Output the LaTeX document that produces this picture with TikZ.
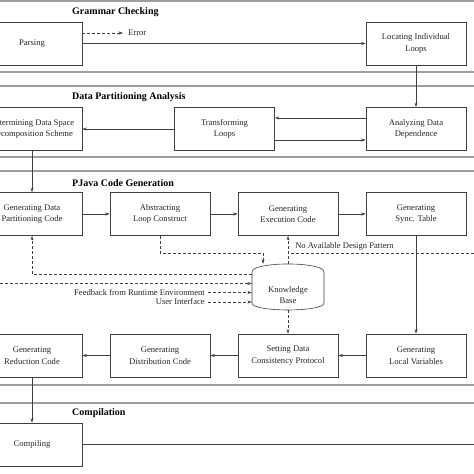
\documentclass[tikz,border=0pt]{standalone}
\usepackage{fontspec}
\setmainfont{Liberation Serif}
\usetikzlibrary{arrows.meta}
\begin{document}
\begin{tikzpicture}[x=1pt,y=-1pt,
  box/.style={draw=black!75, line width=0.6pt, fill=white, minimum width=100pt, minimum height=43pt, align=center, font=\fontsize{8.6}{11.5}\selectfont, text=black!85, inner sep=0pt},
  sectitle/.style={font=\fontsize{10}{12}\selectfont\bfseries, anchor=west, inner sep=0pt},
  lbl/.style={font=\fontsize{8.6}{10}\selectfont, inner sep=0pt, text=black!85},
  secline/.style={draw=black!38, line width=1.6pt},
  plain/.style={draw=black!75, line width=0.6pt},
  conn/.style={plain, -{Stealth[length=4.5pt,width=3pt]}},
  dline/.style={plain, dash pattern=on 3pt off 2pt},
  dconn/.style={conn, dash pattern=on 3pt off 2pt},
]
\path[use as bounding box, clip] (0,0) rectangle (474,474);
\fill[white] (0,0) rectangle (474,474);
% section borders
\foreach \yy in {1,72,86,157,171,385,403} \draw[secline] (0,\yy) -- (474,\yy);
% edge coordinates
\coordinate (R1) at (474,444.5);
\coordinate (R2) at (474,253);
\coordinate (L1) at (0,283.5);
\coordinate (j1) at (263,253);
% titles
\node[sectitle] (t1) at (72,12.5) {Grammar Checking};
\node[sectitle] (t2) at (72,97.5) {Data Partitioning Analysis};
\node[sectitle] (t3) at (72,183) {PJava Code Generation};
\node[sectitle] (t4) at (72,413) {Compilation};
% row 1
\node[box] (parse) at (32,43.5) {Parsing};
\node[box] (locate) at (416,43.5) {Locating Individual\\Loops};
\node[lbl, anchor=west] (err) at (128,33) {Error};
% row 2
\node[box] (dds) at (32,129) {Determining Data Space\\Decomposition Scheme};
\node[box] (trans) at (224.5,129) {Transforming\\Loops};
\node[box] (anal) at (416,129) {Analyzing Data\\Dependence};
% row 3
\node[box] (gdpc) at (32,214) {Generating Data\\Partitioning Code};
\node[box] (abst) at (160,214) {Abstracting\\Loop Construct};
\node[box] (gexec) at (288,214) {Generating\\Execution Code};
\node[box] (gsync) at (416,214) {Generating\\Sync. Table};
% row 4
\node[box] (gred) at (32,355.5) {Generating\\Reduction Code};
\node[box] (gdist) at (160,355.5) {Generating\\Distribution Code};
\node[box] (gsdc) at (288,355.5) {Setting Data\\Consistency Protocol};
\node[box] (glv) at (416,355.5) {Generating\\Local Variables};
% row 5
\node[box] (comp) at (32,444.5) {Compiling};
% knowledge base
\draw[plain, fill=white] (252,272) .. controls (252,261.3) and (324,261.3) .. (324,272)
  -- (324,303) .. controls (324,312.3) and (252,312.3) .. (252,303) -- cycle;
\node[minimum width=72pt, minimum height=46pt, inner sep=0pt] (kb) at (288,287) {};
\node[lbl, align=center, font=\fontsize{8.6}{10.5}\selectfont] (kbt) at (288,295) {Knowledge\\Base};
% labels
\node[lbl] (nadp) at (344.5,246.5) {No Available Design Pattern};
\node[lbl, anchor=east] (fb) at (205,292.5) {Feedback from Runtime Environment};
\node[lbl, anchor=east] (ui) at (205,302) {User Interface};
% solid connectors
\draw[conn] (parse.east) -- (locate.west);
\draw[dconn] (parse.east |- err.west) -- ([xshift=-5pt]err.west);
\draw[conn] (locate.south) -- (anal.north);
\draw[conn] ([yshift=11pt]anal.west) -- ([yshift=11pt]trans.east);
\draw[conn] ([yshift=-11pt]trans.east) -- ([yshift=-11pt]anal.west);
\draw[conn] (trans.west) -- (dds.east);
\draw[conn] (dds.south) -- (gdpc.north);
\draw[conn] (gdpc.east) -- (abst.west);
\draw[conn] (abst.east) -- (gexec.west);
\draw[conn] (gexec.east) -- (gsync.west);
\draw[conn] (gsync.south) -- (glv.north);
\draw[conn] (glv.west) -- (gsdc.east);
\draw[conn] (gsdc.west) -- (gdist.east);
\draw[conn] (gdist.west) -- (gred.east);
\draw[conn] (gred.south) -- (comp.north);
\draw[plain] (comp.east) -- (R1);
% dashed connectors
\draw[dconn] (abst.south) |- (j1) -- (j1 |- kb.north);
\draw[dconn] (kb.north) -- (gexec.south);
\draw[dline] (R2) -- (R2 -| kb.north);
\draw[dconn] ([yshift=13pt]kb.west) -| (gdpc.south);
\draw[dconn] (L1) -- (L1 -| kb.west);
\draw[dconn] ([xshift=3pt]fb.east) -- (fb.east -| kb.west);
\draw[dconn] ([xshift=3pt]ui.east) -- (ui.east -| kb.west);
\draw[dconn] (kb.south) -- (gsdc.north);
\end{tikzpicture}
\end{document}
